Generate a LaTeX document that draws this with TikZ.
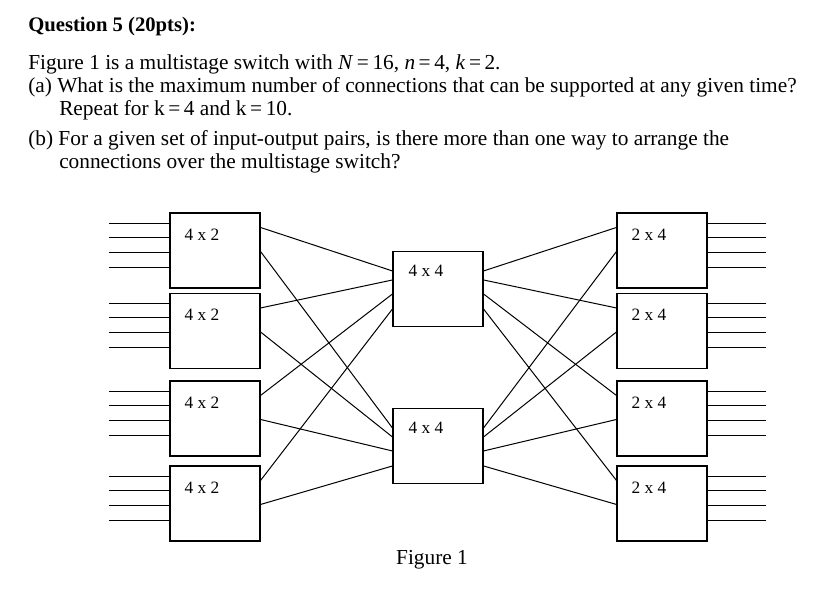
\documentclass[tikz,border=0pt]{standalone}
\usepackage{fontspec}
\setmainfont{Liberation Serif}
\usetikzlibrary{calc}

\tikzset{
  box/.style={draw, line width=0.8pt, minimum width=67.5pt, minimum height=56.25pt, inner sep=0pt},
  boxlabel/.style={anchor=west, font=\rmfamily\fontsize{13}{15}\selectfont, inner sep=0pt},
  wire/.style={line width=0.75pt},
  txt/.style={anchor=base west, inner sep=0pt, font=\rmfamily\fontsize{16}{19}\selectfont}
}

\begin{document}
\begin{tikzpicture}[x=0.75pt, y=-0.75pt]
\useasboundingbox (0,0) rectangle (832,615);

%% Question text
\node[txt, font=\rmfamily\fontsize{15.5}{18}\selectfont\bfseries] (title) at (28,31) {Question 5 (20pts):};
\node[txt] (q0) at (28,69) {Figure 1 is a multistage switch with \textit{N}\,=\,16, \textit{n}\,=\,4, \textit{k}\,=\,2.};
\node[txt] (qa) at (28,92) {(a)\ What is the maximum number of connections that can be supported at any given time?};
\node[txt] (qa2) at (59,115) {Repeat for k\,=\,4 and k\,=\,10.};
\node[txt] (qb) at (28,145) {(b)\ For a given set of input-output pairs, is there more than one way to arrange the};
\node[txt] (qb2) at (59,168) {connections over the multistage switch?};

%% Switch boxes
\foreach \i/\y in {1/250.5, 2/331, 3/418.5, 4/503.5} {
  \node[box] (L\i) at (215,\y) {};
  \node[boxlabel] (LL\i) at ($(L\i.north west)+(15,22)$) {4 x 2};
  \node[box] (R\i) at (662,\y) {};
  \node[boxlabel] (RL\i) at ($(R\i.north west)+(15,22)$) {2 x 4};
  % inputs and outputs
  \foreach \o in {11,25,40,55} {
    \draw[wire] ($(L\i.north west)+(-60,\o)$) -- ($(L\i.north west)+(0,\o)$);
    \draw[wire] ($(R\i.north east)+(0,\o)$) -- ($(R\i.north east)+(58,\o)$);
  }
}
\foreach \j/\y in {1/289, 2/446} {
  \node[box] (M\j) at (438,\y) {};
  \node[boxlabel] (ML\j) at ($(M\j.north west)+(16,20)$) {4 x 4};
}

%% Links
\foreach \i/\o in {1/20, 2/29, 3/43, 4/58} {
  \draw[wire] ($(L\i.north east)+(0,15)$) -- ($(M1.north west)+(0,\o)$);
  \draw[wire] ($(L\i.north east)+(0,39)$) -- ($(M2.north west)+(0,\o)$);
  \draw[wire] ($(R\i.north west)+(0,15)$) -- ($(M1.north east)+(0,\o)$);
  \draw[wire] ($(R\i.north west)+(0,39)$) -- ($(M2.north east)+(0,\o)$);
}

\node[font=\rmfamily\fontsize{16}{19}\selectfont] (cap) at (432,560) {Figure 1};

\end{tikzpicture}
\end{document}
